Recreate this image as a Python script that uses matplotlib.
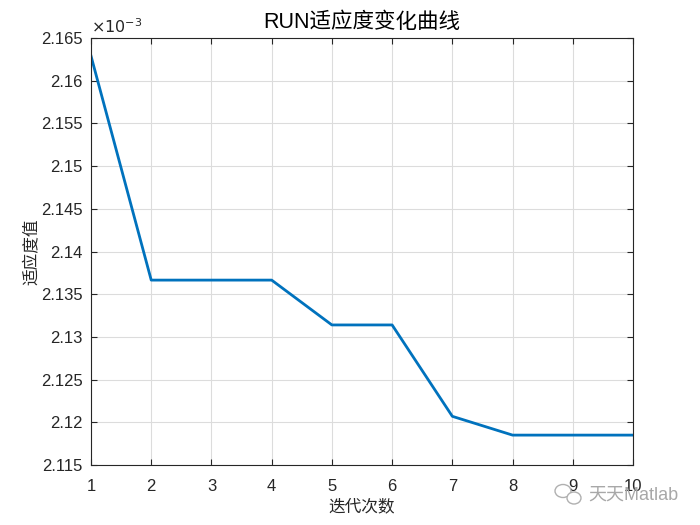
import matplotlib

matplotlib.use("Agg")

import matplotlib.pyplot as plt
from matplotlib.patches import Ellipse
from matplotlib.ticker import FuncFormatter

plt.rcParams["font.family"] = ["Liberation Sans", "Noto Sans CJK SC", "DejaVu Sans"]

iterations = [1, 2, 3, 4, 5, 6, 7, 8, 9, 10]
fitness = [2.1629e-3, 2.13665e-3, 2.13665e-3, 2.13665e-3, 2.1314e-3,
           2.1314e-3, 2.1207e-3, 2.1185e-3, 2.1185e-3, 2.1185e-3]
y_ticks = [2.115e-3, 2.12e-3, 2.125e-3, 2.13e-3, 2.135e-3, 2.14e-3,
           2.145e-3, 2.15e-3, 2.155e-3, 2.16e-3, 2.165e-3]

fig = plt.figure(figsize=(7, 5.25), dpi=100)
ax = fig.add_axes([91 / 700, 1 - 465 / 525, (633 - 91) / 700, (465 - 38) / 525])

ax.plot(iterations, fitness, color="#0072BD", linewidth=2)
ax.set_xlim(1, 10)
ax.set_ylim(2.115e-3, 2.165e-3)
ax.set_xticks(iterations)
ax.set_yticks(y_ticks)
ax.yaxis.set_major_formatter(FuncFormatter(lambda v, p: f"{v * 1e3:g}"))
ax.grid(True, color="#dcdcdc", linewidth=0.8)
ax.tick_params(direction="in", top=True, right=True, labelsize=12,
               colors="#262626", length=4)
ax.tick_params(axis="x", pad=10)
ax.tick_params(axis="y", pad=6)
for s in ax.spines.values():
    s.set_color("#262626")
    s.set_linewidth(0.8)

ax.text(0.0, 1.005, r"$\times10^{-3}$", transform=ax.transAxes, fontsize=11.5,
        color="#262626", va="bottom", ha="left")
ax.set_title("RUN适应度变化曲线", fontsize=15.5, color="black", pad=7)
ax.set_xlabel("迭代次数", fontsize=12, color="#262626", labelpad=3)
ax.set_ylabel("适应度值", fontsize=12, color="#262626", labelpad=1)

# watermark
fig.add_artist(Ellipse((563 / 700, 1 - 491 / 525), 16 / 700, 13 / 525,
                       fill=False, edgecolor="#b0b0b0", linewidth=1))
fig.add_artist(Ellipse((574 / 700, 1 - 498 / 525), 14 / 700, 12 / 525,
                       facecolor="white", edgecolor="#b0b0b0", linewidth=1))
fig.text(588 / 700, 1 - 495 / 525, "天天Matlab", fontsize=13, color="#a8a8a8",
         ha="left", va="center")

fig.savefig("out.png", dpi=100)
